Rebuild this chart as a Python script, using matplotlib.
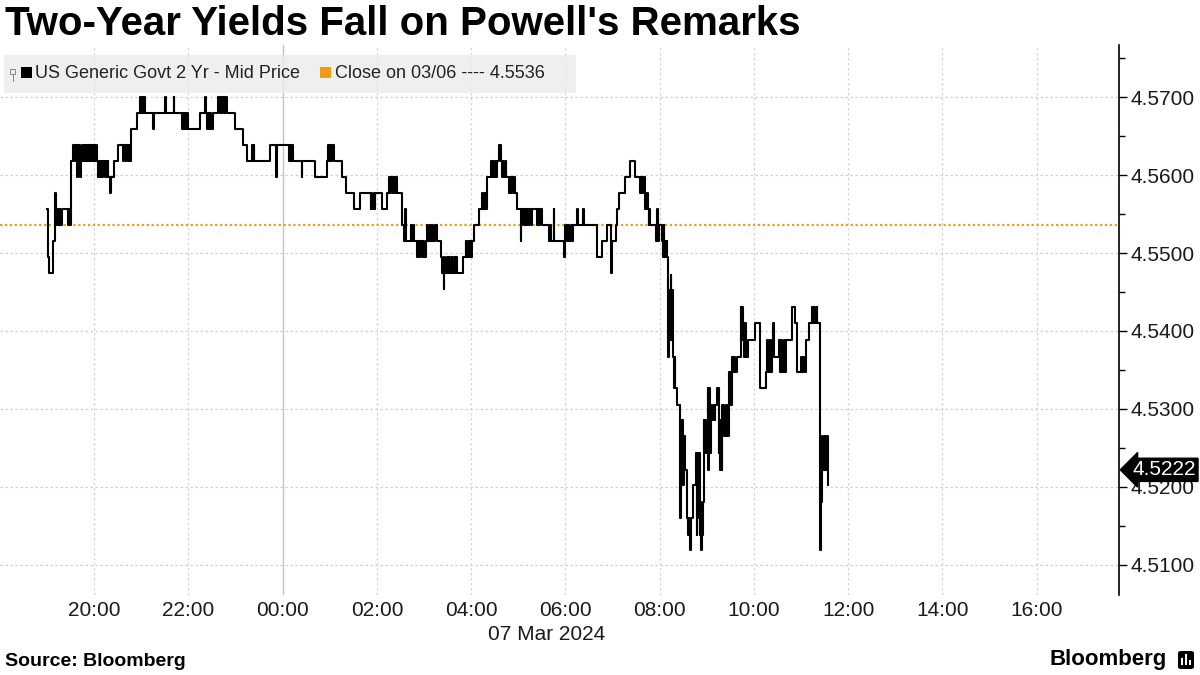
import matplotlib
matplotlib.use("Agg")
import matplotlib.pyplot as plt
import matplotlib.dates as mdates
import matplotlib.transforms as mtransforms
from matplotlib.patches import Rectangle, FancyBboxPatch
from matplotlib.lines import Line2D
from matplotlib.ticker import MultipleLocator, FormatStrFormatter
import pandas as pd

plt.rcParams['font.family'] = ['Liberation Sans', 'DejaVu Sans']

# US Generic Govt 2 Yr mid price, (time, yield) change points
mar06_evening = [
    ("19:00", 4.5557), ("19:01", 4.5495), ("19:03", 4.5475), ("19:07", 4.5516),
    ("19:10", 4.5577), ("19:11", 4.5536), ("19:12", 4.5557), ("19:13", 4.5536),
    ("19:14", 4.5557), ("19:15", 4.5536), ("19:16", 4.5557), ("19:17", 4.5536),
    ("19:19", 4.5557), ("19:27", 4.5536), ("19:28", 4.5557), ("19:29", 4.5536),
    ("19:31", 4.5618), ("19:33", 4.5639), ("19:35", 4.5618), ("19:36", 4.5639),
    ("19:38", 4.5598), ("19:39", 4.5639), ("19:40", 4.5618), ("19:41", 4.5639),
    ("19:42", 4.5598), ("19:43", 4.5618), ("19:44", 4.5639), ("19:46", 4.5618),
    ("19:47", 4.5639), ("19:48", 4.5618), ("19:49", 4.5639), ("19:51", 4.5618),
    ("19:52", 4.5639), ("19:53", 4.5618), ("19:55", 4.5639), ("19:56", 4.5618),
    ("19:57", 4.5639), ("19:59", 4.5618), ("20:00", 4.5639), ("20:01", 4.5618),
    ("20:02", 4.5639), ("20:04", 4.5618), ("20:05", 4.5598), ("20:06", 4.5618),
    ("20:07", 4.5598), ("20:09", 4.5618), ("20:10", 4.5598), ("20:11", 4.5618),
    ("20:14", 4.5598), ("20:15", 4.5618), ("20:16", 4.5598), ("20:17", 4.5618),
    ("20:18", 4.5598), ("20:20", 4.5577), ("20:21", 4.5598), ("20:25", 4.5618),
    ("20:30", 4.5639), ("20:37", 4.5618), ("20:38", 4.5639), ("20:40", 4.5618),
    ("20:41", 4.5639), ("20:43", 4.5618), ("20:44", 4.5639), ("20:46", 4.5618),
    ("20:47", 4.5659), ("20:54", 4.5680), ("20:58", 4.5700), ("20:59", 4.5680),
    ("21:00", 4.5700), ("21:01", 4.5680), ("21:02", 4.5700), ("21:03", 4.5680),
    ("21:04", 4.5700), ("21:05", 4.5680), ("21:15", 4.5659), ("21:16", 4.5680),
    ("21:30", 4.5700), ("21:31", 4.5680), ("21:41", 4.5700), ("21:42", 4.5680),
    ("21:52", 4.5659), ("21:53", 4.5680), ("21:54", 4.5659), ("21:56", 4.5680),
    ("21:57", 4.5659), ("21:58", 4.5680), ("21:59", 4.5659), ("22:15", 4.5680),
    ("22:21", 4.5700), ("22:22", 4.5680), ("22:24", 4.5659), ("22:25", 4.5680),
    ("22:26", 4.5659), ("22:28", 4.5680), ("22:29", 4.5659), ("22:31", 4.5680),
    ("22:38", 4.5700), ("22:40", 4.5680), ("22:41", 4.5700), ("22:43", 4.5680),
    ("22:44", 4.5700), ("22:46", 4.5680), ("22:47", 4.5700), ("22:49", 4.5680),
    ("22:59", 4.5659), ("23:10", 4.5639), ("23:14", 4.5618), ("23:21", 4.5639),
    ("23:22", 4.5618), ("23:23", 4.5639), ("23:24", 4.5618), ("23:44", 4.5639),
    ("23:52", 4.5598), ("23:53", 4.5639),
]

mar07_overnight = [
    ("00:08", 4.5618), ("00:09", 4.5639), ("00:10", 4.5618), ("00:12", 4.5639),
    ("00:13", 4.5618), ("00:24", 4.5598), ("00:25", 4.5618), ("00:41", 4.5598),
    ("00:56", 4.5618), ("00:58", 4.5639), ("00:59", 4.5618), ("01:00", 4.5639),
    ("01:02", 4.5618), ("01:03", 4.5639), ("01:05", 4.5618), ("01:16", 4.5598),
    ("01:20", 4.5577), ("01:31", 4.5557), ("01:39", 4.5577), ("01:52", 4.5557),
    ("01:53", 4.5577), ("01:54", 4.5557), ("01:56", 4.5577), ("01:57", 4.5557),
    ("01:58", 4.5577), ("02:07", 4.5557), ("02:13", 4.5577), ("02:15", 4.5598),
    ("02:17", 4.5577), ("02:18", 4.5598), ("02:20", 4.5577), ("02:21", 4.5598),
    ("02:23", 4.5577), ("02:24", 4.5598), ("02:26", 4.5577), ("02:32", 4.5536),
    ("02:34", 4.5516), ("02:36", 4.5557), ("02:37", 4.5516), ("02:43", 4.5536),
    ("02:44", 4.5516), ("02:46", 4.5536), ("02:47", 4.5516), ("02:51", 4.5495),
    ("02:52", 4.5516), ("02:54", 4.5495), ("02:55", 4.5516), ("02:57", 4.5495),
    ("02:59", 4.5516), ("03:00", 4.5495), ("03:02", 4.5516), ("03:04", 4.5536),
    ("03:05", 4.5516), ("03:07", 4.5536), ("03:08", 4.5516), ("03:10", 4.5536),
    ("03:12", 4.5516), ("03:14", 4.5536), ("03:17", 4.5516), ("03:21", 4.5495),
    ("03:23", 4.5475), ("03:25", 4.5454), ("03:26", 4.5495), ("03:27", 4.5475),
    ("03:29", 4.5495), ("03:30", 4.5475), ("03:32", 4.5495), ("03:33", 4.5475),
    ("03:35", 4.5495), ("03:36", 4.5475), ("03:38", 4.5495), ("03:39", 4.5475),
    ("03:41", 4.5495), ("03:42", 4.5475), ("03:50", 4.5495), ("03:53", 4.5516),
    ("03:54", 4.5495), ("03:56", 4.5516), ("03:57", 4.5495), ("03:59", 4.5516),
    ("04:00", 4.5495), ("04:01", 4.5516), ("04:03", 4.5536), ("04:10", 4.5557),
    ("04:14", 4.5577), ("04:15", 4.5557), ("04:17", 4.5577), ("04:18", 4.5557),
    ("04:20", 4.5598), ("04:25", 4.5618), ("04:26", 4.5598), ("04:28", 4.5618),
    ("04:29", 4.5598), ("04:31", 4.5618), ("04:32", 4.5598), ("04:33", 4.5618),
    ("04:35", 4.5639), ("04:38", 4.5618), ("04:39", 4.5598), ("04:41", 4.5618),
    ("04:42", 4.5598), ("04:44", 4.5618), ("04:45", 4.5598), ("04:48", 4.5577),
    ("04:49", 4.5598), ("04:51", 4.5577), ("04:52", 4.5598), ("04:54", 4.5577),
    ("04:55", 4.5598), ("04:56", 4.5577), ("04:58", 4.5557), ("05:03", 4.5516),
    ("05:04", 4.5536), ("05:05", 4.5557), ("05:07", 4.5536), ("05:08", 4.5557),
    ("05:10", 4.5536), ("05:11", 4.5557), ("05:13", 4.5536), ("05:14", 4.5557),
    ("05:16", 4.5536), ("05:17", 4.5557), ("05:24", 4.5536), ("05:25", 4.5557),
    ("05:27", 4.5536), ("05:28", 4.5557), ("05:30", 4.5536), ("05:39", 4.5516),
    ("05:40", 4.5536), ("05:42", 4.5516), ("05:45", 4.5557), ("05:46", 4.5516),
    ("05:58", 4.5495), ("05:59", 4.5516), ("06:00", 4.5536), ("06:02", 4.5516),
    ("06:03", 4.5536), ("06:05", 4.5516), ("06:07", 4.5536), ("06:08", 4.5516),
    ("06:10", 4.5536), ("06:15", 4.5557), ("06:16", 4.5536), ("06:23", 4.5557),
    ("06:24", 4.5536), ("06:40", 4.5495), ("06:47", 4.5516), ("06:53", 4.5536),
    ("06:58", 4.5475), ("06:59", 4.5516), ("07:04", 4.5536), ("07:06", 4.5557),
    ("07:08", 4.5577), ("07:16", 4.5598), ("07:22", 4.5618), ("07:29", 4.5598),
    ("07:35", 4.5577), ("07:36", 4.5598), ("07:38", 4.5577), ("07:39", 4.5598),
    ("07:41", 4.5577), ("07:42", 4.5557), ("07:44", 4.5577), ("07:45", 4.5557),
    ("07:46", 4.5536), ("07:47", 4.5557), ("07:48", 4.5536), ("07:55", 4.5516),
    ("07:57", 4.5557), ("07:58", 4.5516), ("07:59", 4.5536), ("08:03", 4.5516),
    ("08:04", 4.5495), ("08:05", 4.5536), ("08:06", 4.5495), ("08:07", 4.5516),
    ("08:08", 4.5495), ("08:09", 4.5516), ("08:10", 4.5495),
]

mar07_morning = [
    ("08:11", 4.5367), ("08:12", 4.5453), ("08:13", 4.5389), ("08:14", 4.5472),
    ("08:15", 4.5389), ("08:16", 4.5453), ("08:17", 4.5367), ("08:18", 4.5327),
    ("08:19", 4.5367), ("08:20", 4.5327), ("08:22", 4.5305), ("08:26", 4.5160),
    ("08:27", 4.5286), ("08:28", 4.5203), ("08:29", 4.5286), ("08:30", 4.5203),
    ("08:31", 4.5265), ("08:32", 4.5222), ("08:35", 4.5160), ("08:36", 4.5139),
    ("08:37", 4.5160), ("08:38", 4.5139), ("08:39", 4.5119), ("08:40", 4.5160),
    ("08:43", 4.5203), ("08:46", 4.5243), ("08:47", 4.5139), ("08:48", 4.5243),
    ("08:49", 4.5160), ("08:50", 4.5243), ("08:51", 4.5139), ("08:52", 4.5181),
    ("08:53", 4.5119), ("08:54", 4.5139), ("08:55", 4.5181), ("08:56", 4.5286),
    ("08:57", 4.5243), ("08:58", 4.5286), ("08:59", 4.5243), ("09:01", 4.5327),
    ("09:02", 4.5222), ("09:03", 4.5327), ("09:04", 4.5243), ("09:05", 4.5305),
    ("09:06", 4.5286), ("09:08", 4.5305), ("09:10", 4.5286), ("09:11", 4.5305),
    ("09:13", 4.5327), ("09:15", 4.5243), ("09:16", 4.5286), ("09:17", 4.5222),
    ("09:18", 4.5286), ("09:19", 4.5222), ("09:20", 4.5305), ("09:22", 4.5265),
    ("09:24", 4.5305), ("09:26", 4.5265), ("09:28", 4.5348), ("09:29", 4.5305),
    ("09:30", 4.5348), ("09:31", 4.5305), ("09:32", 4.5367), ("09:33", 4.5348),
    ("09:35", 4.5367), ("09:36", 4.5348), ("09:38", 4.5367), ("09:43", 4.5431),
    ("09:44", 4.5389), ("09:45", 4.5431), ("09:46", 4.5389), ("09:47", 4.5410),
    ("09:48", 4.5367), ("09:49", 4.5410), ("09:50", 4.5367), ("09:52", 4.5389),
    ("10:02", 4.5410), ("10:08", 4.5327), ("10:15", 4.5348), ("10:17", 4.5389),
    ("10:18", 4.5348), ("10:20", 4.5389), ("10:21", 4.5348), ("10:23", 4.5389),
    ("10:25", 4.5410), ("10:26", 4.5367), ("10:32", 4.5389), ("10:33", 4.5348),
    ("10:35", 4.5389), ("10:36", 4.5348), ("10:38", 4.5389), ("10:40", 4.5348),
    ("10:41", 4.5389), ("10:49", 4.5431), ("10:53", 4.5410), ("10:55", 4.5348),
    ("11:00", 4.5367), ("11:01", 4.5348), ("11:03", 4.5367), ("11:04", 4.5348),
    ("11:06", 4.5389), ("11:10", 4.5410), ("11:14", 4.5431), ("11:15", 4.5410),
    ("11:17", 4.5431), ("11:18", 4.5410), ("11:20", 4.5431), ("11:21", 4.5410),
    ("11:24", 4.5119), ("11:25", 4.5243), ("11:26", 4.5181), ("11:27", 4.5265),
    ("11:28", 4.5222), ("11:30", 4.5265), ("11:31", 4.5222), ("11:33", 4.5265),
    ("11:34", 4.5222), ("11:35", 4.5203),
]

prev_close = 4.5536
last_price = 4.5222
y_ticks = [4.51, 4.52, 4.53, 4.54, 4.55, 4.56, 4.57]
x_tick_times = ["2024-03-06 20:00", "2024-03-06 22:00", "2024-03-07 00:00",
                "2024-03-07 02:00", "2024-03-07 04:00", "2024-03-07 06:00",
                "2024-03-07 08:00", "2024-03-07 10:00", "2024-03-07 12:00",
                "2024-03-07 14:00", "2024-03-07 16:00"]


def to_series(day, pairs):
    t = pd.to_datetime([day + " " + hm for hm, _ in pairs])
    return pd.Series([v for _, v in pairs], index=t)


yields = pd.concat([to_series("2024-03-06", mar06_evening),
                    to_series("2024-03-07", mar07_overnight),
                    to_series("2024-03-07", mar07_morning)])

W, H = 1200, 675
fig = plt.figure(figsize=(12, 6.75), dpi=100)
ax = fig.add_axes([0.0, 1 - 595 / H, 1119 / W, (595 - 45) / H])

ax.set_xlim(pd.Timestamp("2024-03-06 18:00"), pd.Timestamp("2024-03-07 17:45"))
ax.set_ylim(4.50615, 4.57667)

# grid
for t in pd.to_datetime(x_tick_times):
    if t.hour == 0:
        ax.axvline(t, color='#c4c4c4', lw=1.0, zorder=1)
    else:
        ax.axvline(t, color='#d6d6d6', lw=0.9, ls=(0, (2, 2)), zorder=1)
for y in y_ticks:
    ax.axhline(y, color='#d0d0d0', lw=0.9, ls=(0, (2, 2)), zorder=1)

ax.axhline(prev_close, color='#f39c12', lw=1.6, ls=(0, (1, 1.2)), zorder=2)
ax.plot(yields.index, yields.values, drawstyle='steps-post', color='black',
        lw=1.5, zorder=3)

for side in ['left', 'top', 'bottom']:
    ax.spines[side].set_visible(False)
ax.spines['right'].set_linewidth(1.2)

ax.yaxis.tick_right()
ax.set_yticks(y_ticks)
ax.yaxis.set_major_formatter(FormatStrFormatter('%.4f'))
ax.yaxis.set_minor_locator(MultipleLocator(0.005))
ax.tick_params(axis='y', which='major', direction='out', length=6, width=1,
               labelsize=15, pad=2, labelcolor='#1a1a1a')
ax.tick_params(axis='y', which='minor', direction='out', length=4, width=1)

ax.set_xticks(pd.to_datetime(x_tick_times))
ax.xaxis.set_major_formatter(mdates.DateFormatter('%H:%M'))
ax.tick_params(axis='x', length=0, labelsize=15, pad=4, labelcolor='#1a1a1a')

# last price tag
trans = mtransforms.blended_transform_factory(ax.transAxes, ax.transData)
ax.text(1.012, last_price, f"{last_price:.4f}", transform=trans, ha='left',
        va='center', color='white', fontsize=15, zorder=10, clip_on=False,
        bbox=dict(boxstyle='larrow,pad=0.1', fc='black', ec='black'))

fig.text(547 / W, 1 - 634 / H, "07 Mar 2024", ha='center', va='center',
         fontsize=15, color='#1a1a1a')

# title
fig.text(5 / W, 1 - 24 / H, "Two-Year Yields Fall on Powell's Remarks",
         fontsize=29, fontweight='bold', ha='left', va='center')

# legend strip
fig.patches.append(Rectangle((4 / W, 1 - 93 / H), 572 / W, 38 / H,
                             transform=fig.transFigure, fc='#ebebeb',
                             alpha=0.8, ec='none', zorder=5))
fig.patches.append(Rectangle((10 / W, 1 - 74 / H), 5 / W, 5 / H,
                             transform=fig.transFigure, fill=False,
                             ec='#777777', lw=0.6, zorder=6))
fig.lines.append(Line2D([12.5 / W, 12.5 / W], [1 - 74 / H, 1 - 81 / H],
                        transform=fig.transFigure, color='#777777', lw=0.6,
                        zorder=6))
fig.patches.append(Rectangle((21 / W, 1 - 78 / H), 11 / W, 11 / H,
                             transform=fig.transFigure, fc='black', zorder=6))
fig.text(35 / W, 1 - 73 / H, "US Generic Govt 2 Yr - Mid Price", fontsize=13,
         va='center', color='#222222', zorder=7)
fig.patches.append(Rectangle((320 / W, 1 - 78 / H), 11 / W, 11 / H,
                             transform=fig.transFigure, fc='#f39c12', zorder=6))
fig.text(335 / W, 1 - 73 / H, f"Close on 03/06 ---- {prev_close:.4f}",
         fontsize=13, va='center', color='#222222', zorder=7)

# footer
fig.text(5 / W, 1 - 662 / H, "Source: Bloomberg", fontsize=14,
         fontweight='bold', va='center')
fig.text(1167 / W, 1 - 660 / H, "Bloomberg", fontsize=16, fontweight='bold',
         ha='right', va='center')
fig.patches.append(FancyBboxPatch((1178 / W, 1 - 669 / H), 16 / W, 18 / H,
                                  boxstyle='round,pad=0,rounding_size=0.003',
                                  transform=fig.transFigure, fc='black',
                                  ec='none', zorder=6))
for bx, bh in [(1181, 7), (1185, 11), (1189, 5)]:
    fig.patches.append(Rectangle((bx / W, 1 - 665 / H), 2 / W, bh / H,
                                 transform=fig.transFigure, fc='white',
                                 ec='none', zorder=7))

fig.savefig("out.png", dpi=100)
